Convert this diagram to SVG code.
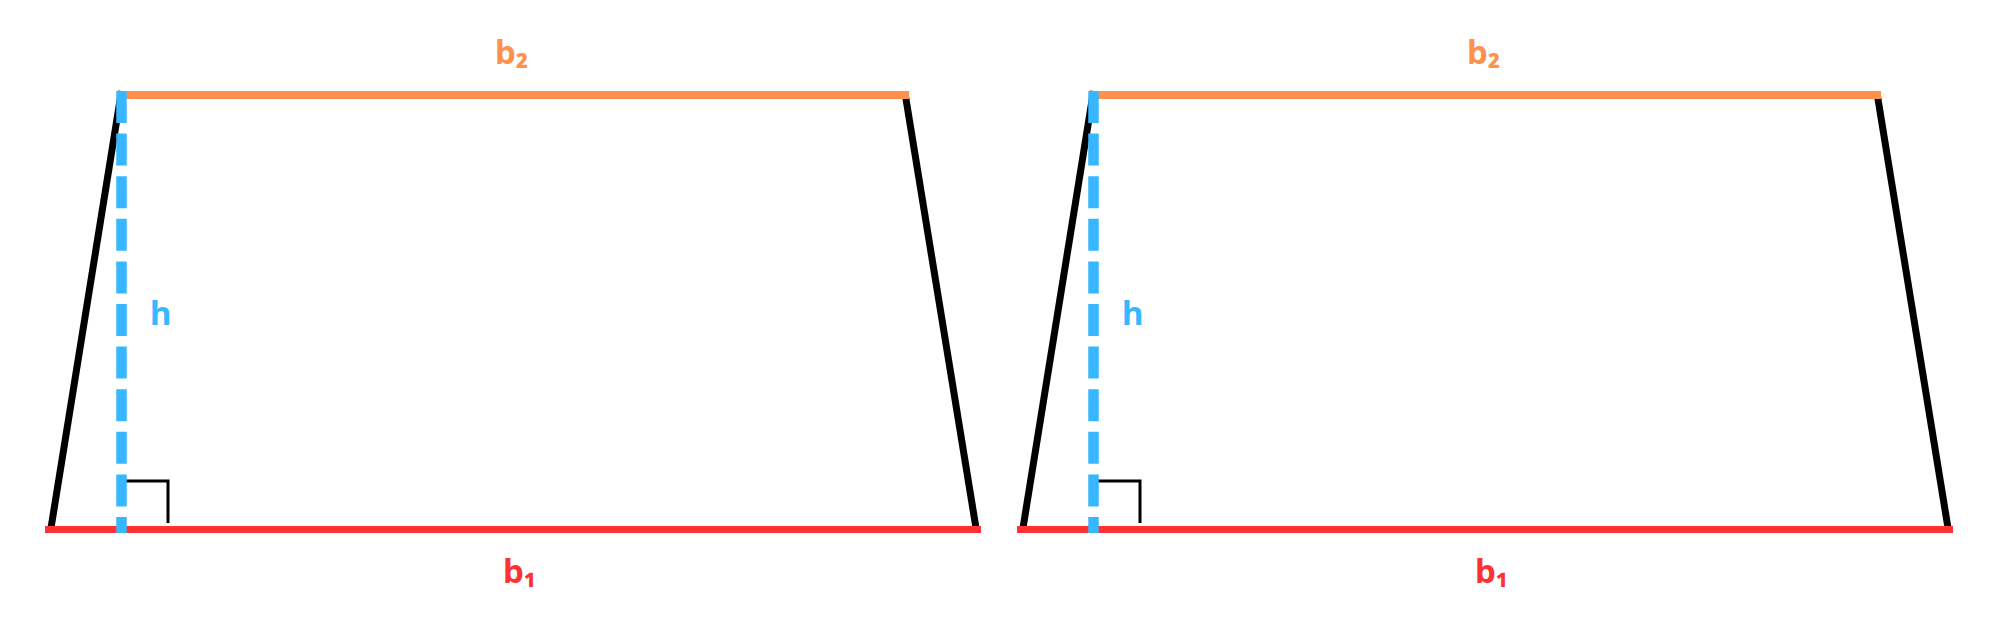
<svg xmlns="http://www.w3.org/2000/svg" width="2000" height="625" viewBox="0 0 2000 625">
<style>
.side{stroke:#000;stroke-width:7;fill:none;stroke-linecap:butt}
.b2{stroke:#FF914D;stroke-width:8;fill:none}
.b1{stroke:#FF3131;stroke-width:7;fill:none}
.h{stroke:#38B6FF;stroke-width:10.5;fill:none;stroke-dasharray:32 10.6}
.ra{stroke:#000;stroke-width:3;fill:none}
.lbl{font-family:"Noto Sans","Open Sans","DejaVu Sans",sans-serif;font-weight:bold;font-size:33px}
.o{fill:#FF914D}.r{fill:#FF3131}.bl{fill:#38B6FF}
</style>
<rect width="2000" height="625" fill="#fff"/>
<g id="trapezoid-left">
<line class="side" x1="121.5" y1="91" x2="51" y2="528"/>
<line class="side" x1="905" y1="93" x2="976" y2="528"/>
<line class="b2" x1="117" y1="95" x2="909" y2="95"/>
<line class="b1" x1="45" y1="529.5" x2="981" y2="529.5"/>
<polyline class="ra" points="126,481 168,481 168,523"/>
<line class="h" x1="121.5" y1="91" x2="121.5" y2="533"/>
<text class="lbl o" x="495" y="64">b₂</text>
<text class="lbl r" x="503" y="583">b₁</text>
<text class="lbl bl" x="150" y="325">h</text>
</g>
<g id="trapezoid-right" transform="translate(972,0)">
<line class="side" x1="121.5" y1="91" x2="51" y2="528"/>
<line class="side" x1="905" y1="93" x2="976" y2="528"/>
<line class="b2" x1="117" y1="95" x2="909" y2="95"/>
<line class="b1" x1="45" y1="529.5" x2="981" y2="529.5"/>
<polyline class="ra" points="126,481 168,481 168,523"/>
<line class="h" x1="121.5" y1="91" x2="121.5" y2="533"/>
<text class="lbl o" x="495" y="64">b₂</text>
<text class="lbl r" x="503" y="583">b₁</text>
<text class="lbl bl" x="150" y="325">h</text>
</g>
</svg>
